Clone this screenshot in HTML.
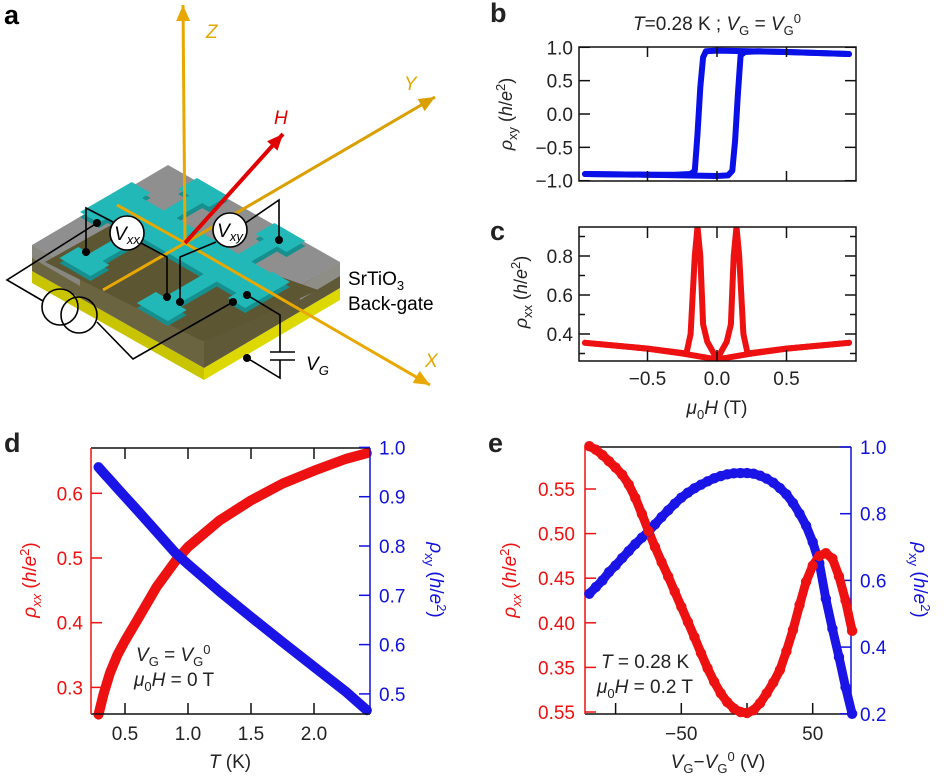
<!DOCTYPE html>
<html><head><meta charset="utf-8"><style>
html,body{margin:0;padding:0;background:#fff;}
svg{display:block;font-family:"Liberation Sans",sans-serif;}
</style></head><body>
<svg id="fig" width="946" height="778" viewBox="0 0 946 778" xmlns="http://www.w3.org/2000/svg">
<g id="panel-a">
<text x="4" y="24" font-size="27" font-weight="bold">a</text>
<polygon points="32,271 204,368 204,380 32,283" fill="#c9c400"/>
<polygon points="204,368 340,288 340,300 204,380" fill="#dcd800"/>
<polygon points="32,245 204,342 204,368 32,271" fill="#6b6440"/>
<polygon points="32,245 80,272 80,286 32,258" fill="#8e8e8e" opacity="0.8"/>
<polygon points="204,342 340,262 340,288 204,368" fill="#5f5937"/>
<polygon points="300,286 340,262 340,276 300,300" fill="#9a9a9a" opacity="0.8"/>
<polygon points="32,245 168,165 340,262 204,342" fill="#8f8f8f"/>
<polygon points="45,262 120,220 318,290 204,342" fill="#5c5632"/>
<g id="cyan"></g>
<g id="axes3d"></g>
<g stroke="#000" stroke-width="1.6" fill="none">
<polyline points="113,222 86,208 86,252"/>
<polyline points="141,243 167,257 167,297"/>
<polyline points="97,223 7,280 43,301"/>
<polyline points="97,322 133,359 233,302"/>
<polyline points="244,224 279,200 279,240"/>
<polyline points="216,242 180,257 180,302"/>
<polyline points="247,295 280,315 280,352"/>
<polyline points="280,360 280,378 247,358"/>
<line x1="270" y1="352" x2="295" y2="352"/>
<line x1="270" y1="360" x2="295" y2="360"/>
<circle cx="60" cy="307" r="18"/>
<circle cx="79" cy="315" r="18"/>
</g>
<g fill="#000">
<circle cx="86" cy="252" r="4"/><circle cx="97" cy="223" r="4"/><circle cx="167" cy="297" r="4"/>
<circle cx="180" cy="302" r="4"/><circle cx="233" cy="302" r="4"/><circle cx="247" cy="295" r="4"/>
<circle cx="279" cy="240" r="4"/><circle cx="247" cy="358" r="4"/>
</g>
<g>
<circle cx="127" cy="233" r="17" fill="#fff" stroke="#000" stroke-width="1.6"/>
<text x="127" y="240" font-size="19" text-anchor="middle" font-style="italic">V<tspan font-size="13" dy="4">xx</tspan></text>
</g>
<g>
<circle cx="230" cy="230" r="17" fill="#fff" stroke="#000" stroke-width="1.6"/>
<text x="230" y="237" font-size="19" text-anchor="middle" font-style="italic">V<tspan font-size="13" dy="4">xy</tspan></text>
</g>
<text x="206" y="38" font-size="19" font-style="italic" fill="#e0a800">Z</text>
<text x="404" y="90" font-size="19" font-style="italic" fill="#e0a800">Y</text>
<text x="274" y="124" font-size="19" font-style="italic" fill="#e00000">H</text>
<text x="425" y="367" font-size="19" font-style="italic" fill="#e0a800">X</text>
<text x="348" y="285" font-size="19">SrTiO<tspan font-size="13" dy="5">3</tspan></text>
<text x="348" y="310" font-size="19">Back-gate</text>
<text x="306" y="370" font-size="19" font-style="italic">V<tspan font-size="13" dy="5">G</tspan></text>
</g>
<g id="charts"></g>
</svg>
<script>
var NS="http://www.w3.org/2000/svg";
function mk(parent,tag,attrs){var e=document.createElementNS(NS,tag);for(var k in attrs)e.setAttribute(k,attrs[k]);parent.appendChild(e);return e;}
var O=[185,243];
function P(u,v){return [O[0]+0.86*(u+v),O[1]+0.5*(u-v)];}
function rect(u0,u1,v0,v1,dz){var pts=[P(u0,v0),P(u1,v0),P(u1,v1),P(u0,v1)];return pts.map(function(p){return p[0]+","+(p[1]+(dz||0));}).join(" ");}
var cy=document.getElementById('cyan');
var cyanRects=[[-85,95,-20,20],[-45,-30,-82,66],[42,57,-82,66],[-58,-22,-88,-66],[32,68,-88,-66],[-58,-22,50,72],[32,68,50,72],[80,100,-30,22],[-92,-70,-30,30]];
cyanRects.forEach(function(r){
  var s=mk(cy,'polygon',{points:rect(r[0],r[1],r[2],r[3],5),fill:'#16908f'});
  
  
});
cyanRects.forEach(function(r){
  var t=mk(cy,'polygon',{points:rect(r[0],r[1],r[2],r[3],0),fill:'#22b8b8'});
  
  
});
var ax=document.getElementById('axes3d');
function arrow(x1,y1,x2,y2,col,w,name){
  var l=mk(ax,'line',{x1:x1,y1:y1,x2:x2,y2:y2,stroke:col,'stroke-width':w});
  
  
  var dx=x2-x1,dy=y2-y1,L=Math.sqrt(dx*dx+dy*dy),ux=dx/L,uy=dy/L,h=16,wd=7;
  var bx=x2-ux*h,by=y2-uy*h;
  var a=mk(ax,'polygon',{points:x2+","+y2+" "+(bx-uy*wd)+","+(by+ux*wd)+" "+(bx+uy*wd)+","+(by-ux*wd),fill:col});
  
  
}
mk(ax,'line',{x1:103,y1:290,x2:185,y2:243,stroke:'#e8a800','stroke-width':3});
mk(ax,'line',{x1:117,y1:205,x2:185,y2:243,stroke:'#e8a800','stroke-width':3});
arrow(185,243,183,5,'#e8a800',3,'z-axis-arrow');
arrow(185,243,435,97,'#d9a000',3,'y-axis-arrow');
arrow(185,243,430,385,'#e8a800',3,'x-axis-arrow');
arrow(185,243,283,134,'#e00000',4,'h-field-arrow');

var bFieldUp=[-0.95,-0.5,0,0.08,0.11,0.13,0.15,0.17,0.2,0.3,0.5,0.95];
var bRhoUp=[-0.9,-0.91,-0.93,-0.92,-0.85,-0.4,0.3,0.88,0.93,0.94,0.93,0.9];
var bFieldDown=[0.95,0.5,0,-0.08,-0.1,-0.12,-0.14,-0.16,-0.19,-0.3,-0.5,-0.95];
var bRhoDown=[0.9,0.93,0.95,0.94,0.85,0.4,-0.3,-0.85,-0.9,-0.91,-0.91,-0.9];
var bYTicks=[1.0,0.5,0.0,-0.5,-1.0];
var bYTickLabels=["1.0","0.5","0.0","\u22120.5","\u22121.0"];
var cField1=[-0.95,-0.5,-0.22,-0.19,-0.16,-0.14,-0.12,-0.1,-0.07,-0.03,0,0.25,0.5,0.95];
var cRho1=[0.355,0.325,0.30,0.40,0.8,0.95,0.8,0.45,0.36,0.31,0.27,0.30,0.325,0.355];
var cField2=[-0.95,-0.5,-0.25,0,0.03,0.07,0.1,0.12,0.14,0.16,0.19,0.22,0.5,0.95];
var cRho2=[0.355,0.325,0.30,0.27,0.31,0.36,0.45,0.8,0.95,0.8,0.40,0.30,0.325,0.355];
var cYTicks=[0.8,0.6,0.4];
var cYTickLabels=["0.8","0.6","0.4"];
var bcXTicks=[-0.5,0,0.5];
var bcXTickLabels=["\u22120.5","0.0","0.5"];
var dTemp=[0.29,0.33,0.38,0.44,0.5,0.6,0.75,0.9,1.0,1.25,1.5,1.75,2.0,2.25,2.42];
var dRhoXX=[0.258,0.29,0.322,0.35,0.372,0.405,0.455,0.495,0.517,0.558,0.589,0.615,0.635,0.653,0.662];
var dRhoXY=[0.96,0.948,0.934,0.917,0.9,0.872,0.829,0.786,0.763,0.708,0.656,0.605,0.555,0.505,0.467];
var dXTicks=[0.5,1.0,1.5,2.0];
var dXTickLabels=["0.5","1.0","1.5","2.0"];
var dLTicks=[0.6,0.5,0.4,0.3];
var dLTickLabels=["0.6","0.5","0.4","0.3"];
var dRTicks=[1.0,0.9,0.8,0.7,0.6,0.5];
var dRTickLabels=["1.0","0.9","0.8","0.7","0.6","0.5"];
var eVolt=[-120,-115,-110,-105,-100,-95,-90,-85,-80,-75,-70,-65,-60,-55,-50,-45,-40,-35,-30,-25,-20,-15,-10,-5,0,5,10,15,20,25,30,35,40,45,50,55,60,65,70,75,80];
var eRhoXX=[0.598,0.594,0.588,0.581,0.574,0.566,0.555,0.54,0.522,0.503,0.485,0.468,0.452,0.435,0.418,0.401,0.384,0.366,0.349,0.334,0.321,0.311,0.304,0.3,0.299,0.302,0.31,0.321,0.333,0.347,0.368,0.392,0.42,0.446,0.464,0.475,0.478,0.472,0.452,0.425,0.391];
var eRhoXY=[0.56,0.58,0.6,0.625,0.645,0.667,0.688,0.709,0.728,0.747,0.768,0.79,0.81,0.83,0.848,0.863,0.876,0.887,0.897,0.906,0.913,0.918,0.921,0.922,0.922,0.92,0.914,0.905,0.893,0.877,0.858,0.832,0.8,0.764,0.715,0.652,0.545,0.455,0.37,0.28,0.2];
var eXTicks=[-100,-50,0,50];
var eXTickLabels=["","\u221250","","50"];
var eLTicks=[0.55,0.50,0.45,0.40,0.35,0.30];
var eLTickLabels=["0.55","0.50","0.45","0.40","0.35","0.55"];
var eRTicks=[1.0,0.8,0.6,0.4,0.2];
var eRTickLabels=["1.0","0.8","0.6","0.4","0.2"];

var bcX=function(h){return 717+h*139;};
var bY=function(v){return 114-v*66.7;};
var cY=function(v){return 334-(v-0.4)*195;};
var dX=function(t){return 125+(t-0.5)*126;};
var dYL=function(v){return 558-(v-0.5)*647;};
var dYR=function(v){return 546-(v-0.8)*493;};
var eX=function(v){return 747+v*1.314;};
var eYL=function(v){return 489-(v-0.55)*892;};
var eYR=function(v){return 447+(1-v)*333.5;};

var C=document.getElementById('charts');
var RED='#ee1111',BLUE='#1111dd',TXT='#222';
function txt(g,x,y,s,size,anchor,fill){var t=mk(g,'text',{x:x,y:y,'font-size':size,'text-anchor':anchor||'start',fill:fill||TXT});t.textContent=s;return t;}
function poly(g,xs,ys,fx,fy,col,w){var pts=xs.map(function(x,i){return fx(x).toFixed(1)+","+fy(ys[i]).toFixed(1);}).join(" ");return mk(g,'polyline',{points:pts,fill:'none',stroke:col,'stroke-width':w,'stroke-linejoin':'round','stroke-linecap':'round'});}

var gb=mk(C,'g',{});


var lb=txt(gb,490,22,'b',27);lb.setAttribute('font-weight','bold');


var tb=mk(gb,'text',{x:717,y:30,'font-size':19,'text-anchor':'middle',fill:TXT});
tb.innerHTML='<tspan font-style="italic">T</tspan>=0.28 K ; <tspan font-style="italic">V</tspan><tspan font-size="13" dy="5">G</tspan><tspan dy="-5"> = </tspan><tspan font-style="italic">V</tspan><tspan font-size="13" dy="5">G</tspan><tspan font-size="13" dy="-12">0</tspan>';


var upLine=poly(gb,bFieldUp,bRhoUp,bcX,bY,'#0a10e8',6);


var dnLine=poly(gb,bFieldDown,bRhoDown,bcX,bY,'#0a10e8',6);


var fb=mk(gb,'rect',{x:579,y:47,width:277,height:134,fill:'none',stroke:'#111','stroke-width':1.5});


bYTicks.forEach(function(v,i){
  mk(gb,'line',{x1:579,y1:bY(v),x2:590,y2:bY(v),stroke:'#111','stroke-width':1.5});
  mk(gb,'line',{x1:845,y1:bY(v),x2:856,y2:bY(v),stroke:'#111','stroke-width':1.5});
  var t=txt(gb,573,bY(v)+7,bYTickLabels[i],19,'end');
  
  
});
bcXTicks.forEach(function(h){
  mk(gb,'line',{x1:bcX(h),y1:47,x2:bcX(h),y2:57,stroke:'#111','stroke-width':1.5});
  mk(gb,'line',{x1:bcX(h),y1:171,x2:bcX(h),y2:181,stroke:'#111','stroke-width':1.5});
});
var byt=mk(gb,'text',{x:0,y:0,'font-size':18,'text-anchor':'middle',fill:TXT,transform:'translate(512,114) rotate(-90)'});
byt.innerHTML='<tspan font-style="italic">ρ</tspan><tspan font-size="13" dy="5">xy</tspan><tspan dy="-5"> (</tspan><tspan font-style="italic">h</tspan>/<tspan font-style="italic">e</tspan><tspan font-size="13" dy="-7">2</tspan><tspan dy="7">)</tspan>';



var gc=mk(C,'g',{});


var lc=txt(gc,490,240,'c',27);lc.setAttribute('font-weight','bold');


var clip=mk(gc,'clipPath',{id:'cclip'});mk(clip,'rect',{x:579,y:227,width:277,height:134});
var cg=mk(gc,'g',{'clip-path':'url(#cclip)'});
var c1=poly(cg,cField1,cRho1,bcX,cY,'#ee1111',6);


var c2=poly(cg,cField2,cRho2,bcX,cY,'#ee1111',6);


var fc=mk(gc,'rect',{x:579,y:227,width:277,height:134,fill:'none',stroke:'#111','stroke-width':1.5});


[0.3,0.4,0.5,0.6,0.7,0.8,0.9].forEach(function(v){
  var len=(Math.abs(v*10-Math.round(v*10/2)*2)<0.01)?11:6;
  mk(gc,'line',{x1:579,y1:cY(v),x2:579+len,y2:cY(v),stroke:'#111','stroke-width':1.5});
  mk(gc,'line',{x1:856-len,y1:cY(v),x2:856,y2:cY(v),stroke:'#111','stroke-width':1.5});
});
cYTicks.forEach(function(v,i){
  var t=txt(gc,573,cY(v)+7,cYTickLabels[i],19,'end');
  
  
});
bcXTicks.forEach(function(h,i){
  mk(gc,'line',{x1:bcX(h),y1:227,x2:bcX(h),y2:238,stroke:'#111','stroke-width':1.5});
  mk(gc,'line',{x1:bcX(h),y1:350,x2:bcX(h),y2:361,stroke:'#111','stroke-width':1.5});
  var t=txt(gc,bcX(h),385,bcXTickLabels[i],19,'middle');
  
  
});
var cyt=mk(gc,'text',{x:0,y:0,'font-size':18,'text-anchor':'middle',fill:TXT,transform:'translate(527,292) rotate(-90)'});
cyt.innerHTML='<tspan font-style="italic">ρ</tspan><tspan font-size="13" dy="5">xx</tspan><tspan dy="-5"> (</tspan><tspan font-style="italic">h</tspan>/<tspan font-style="italic">e</tspan><tspan font-size="13" dy="-7">2</tspan><tspan dy="7">)</tspan>';


var cxt=mk(gc,'text',{x:717,y:414,'font-size':19,'text-anchor':'middle',fill:TXT});
cxt.innerHTML='<tspan font-style="italic">μ</tspan><tspan font-size="13" dy="5">0</tspan><tspan dy="-5" font-style="italic">H</tspan> (T)';



var gd=mk(C,'g',{});


var ld=txt(gd,4,452,'d',27);ld.setAttribute('font-weight','bold');


var dr=poly(gd,dTemp,dRhoXX,dX,dYL,'#ee1111',10);


var db=poly(gd,dTemp,dRhoXY,dX,dYR,'#1a14e6',10);


mk(gd,'line',{x1:91,y1:448,x2:370,y2:448,stroke:'#111','stroke-width':1.5});
mk(gd,'line',{x1:91,y1:714,x2:370,y2:714,stroke:'#111','stroke-width':1.5});
var dla=mk(gd,'line',{x1:91,y1:448,x2:91,y2:714,stroke:RED,'stroke-width':1.5});


var dra=mk(gd,'line',{x1:370,y1:448,x2:370,y2:714,stroke:BLUE,'stroke-width':1.5});


dXTicks.forEach(function(t,i){
  mk(gd,'line',{x1:dX(t),y1:448,x2:dX(t),y2:459,stroke:'#111','stroke-width':1.5});
  mk(gd,'line',{x1:dX(t),y1:703,x2:dX(t),y2:714,stroke:'#111','stroke-width':1.5});
  var l=txt(gd,dX(t),740,dXTickLabels[i],19,'middle');
  
  
});
dLTicks.forEach(function(v,i){
  mk(gd,'line',{x1:91,y1:dYL(v),x2:102,y2:dYL(v),stroke:RED,'stroke-width':1.5});
  var l=txt(gd,83,dYL(v)+7,dLTickLabels[i],19,'end',RED);
  
  
});
dRTicks.forEach(function(v,i){
  mk(gd,'line',{x1:359,y1:dYR(v),x2:370,y2:dYR(v),stroke:BLUE,'stroke-width':1.5});
  var l=txt(gd,379,dYR(v)+7,dRTickLabels[i],19,'start',BLUE);
  
  
});
var dlt=mk(gd,'text',{x:0,y:0,'font-size':19,'text-anchor':'middle',fill:RED,transform:'translate(36,580) rotate(-90)'});
dlt.innerHTML='<tspan font-style="italic">ρ</tspan><tspan font-size="13" dy="5" font-style="italic">xx</tspan><tspan dy="-5"> (</tspan><tspan font-style="italic">h</tspan>/<tspan font-style="italic">e</tspan><tspan font-size="13" dy="-7">2</tspan><tspan dy="7">)</tspan>';


var drt=mk(gd,'text',{x:0,y:0,'font-size':19,'text-anchor':'middle',fill:BLUE,transform:'translate(430,580) rotate(90)'});
drt.innerHTML='<tspan font-style="italic">ρ</tspan><tspan font-size="13" dy="5">xy</tspan><tspan dy="-5"> (</tspan><tspan font-style="italic">h</tspan>/<tspan font-style="italic">e</tspan><tspan font-size="13" dy="-7">2</tspan><tspan dy="7">)</tspan>';


var dxt=mk(gd,'text',{x:230,y:768,'font-size':19,'text-anchor':'middle',fill:TXT});
dxt.innerHTML='<tspan font-style="italic">T</tspan> (K)';


var da1=mk(gd,'text',{x:136,y:661,'font-size':19,fill:TXT});
da1.innerHTML='<tspan font-style="italic">V</tspan><tspan font-size="13" dy="5">G</tspan><tspan dy="-5"> = </tspan><tspan font-style="italic">V</tspan><tspan font-size="13" dy="5">G</tspan><tspan font-size="13" dy="-12">0</tspan>';


var da2=mk(gd,'text',{x:134,y:686,'font-size':19,fill:TXT});
da2.innerHTML='<tspan font-style="italic">μ</tspan><tspan font-size="13" dy="5">0</tspan><tspan dy="-5" font-style="italic">H</tspan> = 0 T';



var ge=mk(C,'g',{});


var le=txt(ge,488,452,'e',27);le.setAttribute('font-weight','bold');


mk(ge,'line',{x1:585,y1:447,x2:851,y2:447,stroke:'#111','stroke-width':1.5});
mk(ge,'line',{x1:585,y1:714,x2:851,y2:714,stroke:'#111','stroke-width':1.5});
var ela=mk(ge,'line',{x1:585,y1:447,x2:585,y2:714,stroke:RED,'stroke-width':1.5});


var era=mk(ge,'line',{x1:851,y1:447,x2:851,y2:714,stroke:BLUE,'stroke-width':1.5});


eXTicks.forEach(function(v,i){
  mk(ge,'line',{x1:eX(v),y1:703,x2:eX(v),y2:714,stroke:'#111','stroke-width':1.5});
  if(eXTickLabels[i]){var l=txt(ge,eX(v),740,eXTickLabels[i],19,'middle');
  
  }
});
eLTicks.forEach(function(v,i){
  mk(ge,'line',{x1:585,y1:eYL(v),x2:596,y2:eYL(v),stroke:RED,'stroke-width':1.5});
  var l=txt(ge,575,eYL(v)+7,eLTickLabels[i],19,'end',RED);
  
  
});
eRTicks.forEach(function(v,i){
  mk(ge,'line',{x1:840,y1:eYR(v),x2:851,y2:eYR(v),stroke:BLUE,'stroke-width':1.5});
  var l=txt(ge,860,eYR(v)+7,eRTickLabels[i],19,'start',BLUE);
  
  
});
var eb=poly(ge,eVolt,eRhoXY,eX,eYR,'#1a14e6',9);


var er=poly(ge,eVolt,eRhoXX,eX,eYL,'#ee1111',9);


eVolt.forEach(function(v,i){
  var c=mk(ge,'circle',{cx:eX(v),cy:eYR(eRhoXY[i]),r:5.2,fill:'#1a14e6'});
  
  
});
eVolt.forEach(function(v,i){
  var c=mk(ge,'circle',{cx:eX(v),cy:eYL(eRhoXX[i]),r:5.2,fill:'#ee1111'});
  
  
});
var elt=mk(ge,'text',{x:0,y:0,'font-size':19,'text-anchor':'middle',fill:RED,transform:'translate(516,580) rotate(-90)'});
elt.innerHTML='<tspan font-style="italic">ρ</tspan><tspan font-size="13" dy="5" font-style="italic">xx</tspan><tspan dy="-5"> (</tspan><tspan font-style="italic">h</tspan>/<tspan font-style="italic">e</tspan><tspan font-size="13" dy="-7">2</tspan><tspan dy="7">)</tspan>';


var ert=mk(ge,'text',{x:0,y:0,'font-size':19,'text-anchor':'middle',fill:BLUE,transform:'translate(914,580) rotate(90)'});
ert.innerHTML='<tspan font-style="italic">ρ</tspan><tspan font-size="13" dy="5">xy</tspan><tspan dy="-5"> (</tspan><tspan font-style="italic">h</tspan>/<tspan font-style="italic">e</tspan><tspan font-size="13" dy="-7">2</tspan><tspan dy="7">)</tspan>';


var ext=mk(ge,'text',{x:718,y:768,'font-size':19,'text-anchor':'middle',fill:TXT});
ext.innerHTML='<tspan font-style="italic">V</tspan><tspan font-size="13" dy="5">G</tspan><tspan dy="-5">\u2212</tspan><tspan font-style="italic">V</tspan><tspan font-size="13" dy="5">G</tspan><tspan font-size="13" dy="-12">0</tspan><tspan dy="7"> (V)</tspan>';


var ea1=mk(ge,'text',{x:601,y:668,'font-size':19,fill:TXT});
ea1.innerHTML='<tspan font-style="italic">T</tspan> = 0.28 K';


var ea2=mk(ge,'text',{x:597,y:693,'font-size':19,fill:TXT});
ea2.innerHTML='<tspan font-style="italic">μ</tspan><tspan font-size="13" dy="5">0</tspan><tspan dy="-5" font-style="italic">H</tspan> = 0.2 T';


</script>
</body></html>
